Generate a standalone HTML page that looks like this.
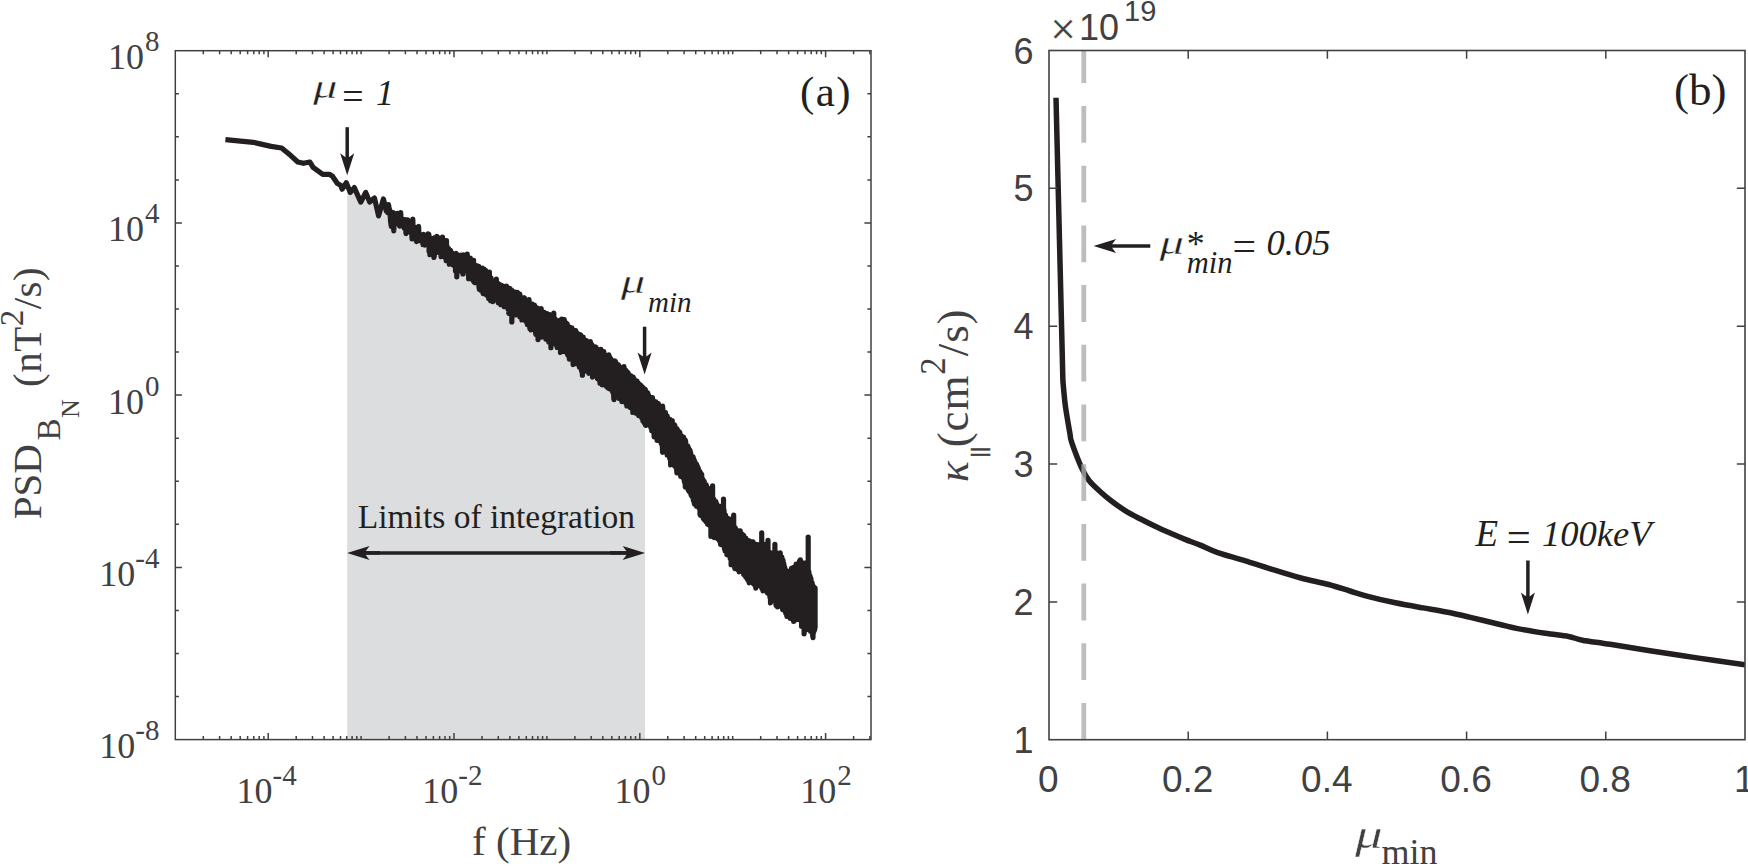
<!DOCTYPE html>
<html lang="en"><head><meta charset="utf-8"><title>Figure</title>
<style>html,body{margin:0;padding:0;background:#fff;overflow:hidden}svg{display:block}</style>
</head><body>
<svg width="1748" height="866" viewBox="0 0 1748 866">
<rect width="1748" height="866" fill="#ffffff"/>
<path d="M347.2,739.6 347.2,184.9 349.2,189.7 351.2,191.3 353.2,188.9 355.2,189.6 357.2,194.1 359.2,198.5 361.2,201.3 363.2,197.3 365.2,193.4 367.2,196.0 369.2,200.9 371.2,200.8 373.2,199.2 375.2,201.1 377.2,209.8 379.2,213.8 381.2,206.7 383.2,199.6 385.2,205.5 387.2,207.8 389.2,209.9 391.2,211.9 393.2,213.8 395.2,215.6 397.2,217.4 399.2,219.1 401.2,220.7 403.2,222.5 405.2,224.2 407.2,225.7 409.2,227.0 411.2,228.1 413.2,229.2 415.2,230.4 417.2,231.8 419.2,233.6 421.2,235.6 423.2,237.6 425.2,239.3 427.2,240.8 429.2,242.1 431.2,243.2 433.2,244.1 435.2,244.9 437.2,245.6 439.2,246.4 441.2,247.2 443.2,248.4 445.2,250.2 447.2,252.2 449.2,254.2 451.2,255.9 453.2,257.1 455.2,258.1 457.2,259.2 459.2,260.3 461.2,261.1 463.2,262.0 465.2,263.2 467.2,265.0 469.2,267.1 471.2,269.5 473.2,271.6 475.2,273.6 477.2,275.3 479.2,277.0 481.2,278.6 483.2,280.2 485.2,281.7 487.2,283.3 489.2,284.9 491.2,286.7 493.2,288.5 495.2,290.1 497.2,291.5 499.2,292.7 501.2,293.8 503.2,295.0 505.2,296.3 507.2,297.6 509.2,299.0 511.2,300.3 513.2,301.6 515.2,302.9 517.2,304.3 519.2,305.7 521.2,307.2 523.2,308.6 525.2,310.1 527.2,311.7 529.2,313.4 531.2,314.8 533.2,315.9 535.2,317.0 537.2,318.2 539.2,319.4 541.2,320.6 543.2,321.7 545.2,322.9 547.2,324.2 549.2,325.7 551.2,327.2 553.2,328.7 555.2,330.2 557.2,331.5 559.2,332.9 561.2,334.3 563.2,335.8 565.2,337.2 567.2,338.5 569.2,339.7 571.2,341.2 573.2,342.9 575.2,344.7 577.2,346.4 579.2,348.0 581.2,349.5 583.2,351.0 585.2,352.5 587.2,354.0 589.2,355.6 591.2,357.2 593.2,358.9 595.2,360.7 597.2,362.3 599.2,363.9 601.2,365.4 603.2,366.9 605.2,368.3 607.2,369.8 609.2,371.2 611.2,372.7 613.2,374.2 615.2,375.8 617.2,377.4 619.2,379.0 621.2,380.7 623.2,382.3 625.2,384.0 627.2,385.7 629.2,387.6 631.2,389.5 633.2,391.5 635.2,393.5 637.2,395.4 639.2,397.4 641.2,399.3 643.2,401.5 645.0,403.5 645.0,739.6Z" fill="#dcddde"/>
<path d="M225.4,139.6 253.3,142.3 271.1,146.4 281.6,148.0 290.5,155.3 297.8,162.0 303.4,163.3 309.9,162.0 313.1,167.4 322.8,174.3 329.3,174.3 332.5,176.3 337.4,183.5 340.6,185.2 342.2,189.2 346.3,182.7 350.3,192.4 354.3,187.6 360.8,202.1 365.7,192.4 369.7,202.1 374.5,198.1 378.6,215.9 383.4,198.9 384.8,204.5 385.6,208.4 386.3,211.2 387.1,206.6 387.8,212.7 388.5,204.6 389.2,208.7 389.9,210.5 390.6,221.6 391.3,226.4 391.9,225.9 392.6,221.6 393.2,212.5 393.8,230.9 394.4,215.0 395.0,224.1 395.6,215.0 396.2,220.5 396.8,220.9 397.4,213.4 397.9,218.3 398.5,218.0 399.1,218.4 399.6,226.2 400.1,219.2 400.7,212.7 401.2,225.6 401.7,218.8 402.2,218.8 402.7,219.3 403.2,225.0 403.7,224.6 404.2,228.1 404.6,224.3 405.1,219.6 405.6,227.7 406.0,233.7 406.5,225.4 406.9,222.5 407.4,227.2 407.8,219.8 408.3,227.5 408.7,227.0 409.1,232.0 409.6,229.0 410.0,224.4 410.4,224.5 410.8,223.0 411.2,225.3 411.6,226.5 412.0,239.0 412.4,233.0 412.8,219.0 413.2,232.1 413.6,226.9 413.9,230.4 414.3,227.2 414.7,230.2 415.0,235.4 415.4,234.6 415.8,229.6 416.1,233.7 416.5,241.6 416.8,229.6 417.2,227.7 417.5,228.4 417.9,228.6 418.2,240.3 418.6,226.4 418.9,234.4 419.2,238.2 419.6,236.4 419.9,237.9 420.2,240.8 420.5,235.4 420.8,235.0 421.2,236.9 421.5,235.7 421.8,237.5 422.1,240.3 422.4,239.9 422.7,235.4 423.0,244.6 423.3,240.6 423.6,234.3 423.9,237.7 424.2,236.1 424.5,239.2 424.8,245.1 425.1,241.6 425.3,239.4 425.6,242.1 425.9,241.2 426.2,239.8 426.5,236.7 426.7,243.2 427.0,235.8 427.3,241.4 427.6,236.9 427.8,236.4 428.1,233.8 428.4,237.0 428.6,237.1 428.9,234.3 429.1,251.5 429.4,247.6 429.7,237.8 429.9,254.7 430.2,242.2 430.4,242.3 430.7,251.4 430.9,248.2 431.2,240.3 431.4,240.9 431.6,246.8 431.9,248.3 432.1,247.8 432.4,241.7 432.6,251.7 432.8,244.2 433.1,252.2 433.3,240.0 433.5,243.6 433.8,238.2 434.0,257.5 434.2,256.1 434.5,248.2 434.7,237.6 434.9,251.3 435.1,238.7 435.4,244.4 435.6,244.6 435.8,241.9 436.0,251.0 436.2,248.9 436.5,252.6 436.7,245.2 436.9,236.3 437.1,248.0 437.3,243.3 437.5,244.1 437.7,245.1 437.9,247.2 438.1,239.3 438.4,245.8 438.6,249.1 438.8,240.7 439.0,242.3 439.2,244.9 439.4,247.3 439.6,238.1 439.8,246.6 440.0,250.1 440.2,243.6 440.4,248.5 440.6,247.0 440.7,249.0 440.9,248.1 441.1,256.7 441.3,252.0 441.5,251.6 441.7,255.5 441.9,249.1 442.1,246.3 442.3,253.4 442.5,237.1 442.6,248.9 442.8,246.1 443.0,254.6 443.2,253.4 443.4,240.3 443.6,245.4 443.7,249.7 443.9,256.7 444.1,241.3 444.3,254.4 444.5,252.0 444.6,250.5 444.8,248.0 445.0,249.9 445.2,250.4 445.3,240.8 445.5,250.0 445.7,248.4 445.8,258.6 446.0,247.2 446.2,260.7 446.4,254.8 446.5,240.6 446.7,255.7 446.9,251.9 447.0,258.0 447.2,258.2 447.4,247.0 447.5,254.8 447.7,253.2 447.8,254.4 448.0,260.5 448.2,254.0 448.3,248.4 448.5,257.3 448.6,251.6 448.8,248.8 449.0,260.0 449.1,250.2 449.3,264.1 449.4,251.4 449.6,256.2 449.8,260.1 449.9,255.5 450.1,257.9 450.2,263.4 450.4,250.6 450.5,250.4 450.7,260.3 450.8,257.5 451.0,258.0 451.1,257.0 451.3,261.9 451.4,252.0 451.6,255.9 451.7,260.6 451.9,258.5 452.0,259.8 452.2,257.3 452.3,253.9 452.5,253.9 452.6,261.6 452.7,256.4 452.9,260.8 453.0,264.9 453.2,261.8 453.3,257.2 453.5,264.0 453.6,260.4 453.7,255.6 453.9,260.4 454.0,260.6 454.2,261.7 454.3,265.8 454.4,258.9 454.6,257.8 454.7,257.5 454.8,262.2 455.0,262.2 455.1,255.0 455.3,262.0 455.4,259.5 455.5,271.1 455.7,262.7 455.8,262.7 455.9,264.7 456.1,253.3 456.2,260.1 456.3,266.6 456.5,258.8 456.6,259.1 456.7,259.0 456.8,259.0 456.8,276.8 456.8,259.0 456.8,254.2 457.0,259.4 457.1,259.2 457.2,261.9 457.4,263.2 457.5,259.6 457.6,260.0 457.7,263.0 457.9,261.5 458.0,259.5 458.1,259.3 458.3,261.9 458.4,268.0 458.5,259.2 458.6,261.4 458.8,263.6 458.9,262.0 459.0,264.6 459.1,259.6 459.2,261.7 459.4,266.7 459.5,259.4 459.6,259.0 459.7,261.3 459.9,258.9 460.0,266.3 460.1,256.5 460.2,259.7 460.3,257.3 460.5,271.0 460.6,266.5 460.7,263.1 460.8,262.2 460.9,255.0 461.0,261.3 461.2,265.8 461.3,259.5 461.4,260.6 461.5,264.0 461.6,258.5 461.7,257.4 461.9,262.4 462.0,265.2 462.1,259.2 462.2,260.2 462.3,262.8 462.4,264.9 462.5,262.8 462.7,260.2 462.8,261.7 462.9,273.9 463.0,259.7 463.1,255.7 463.2,260.7 463.3,258.9 463.4,262.1 463.5,254.9 463.7,262.3 463.8,257.1 463.9,256.7 464.0,263.0 464.1,259.2 464.2,269.0 464.3,261.1 464.4,269.2 464.5,260.6 464.6,264.7 464.7,263.7 464.8,266.8 465.0,262.0 465.1,260.2 465.2,267.1 465.3,264.6 465.4,262.3 465.5,266.0 465.6,258.4 465.7,255.4 465.8,262.6 465.9,264.1 466.0,263.2 466.1,267.6 466.2,270.7 466.3,267.4 466.4,263.1 466.5,265.6 466.6,268.4 466.7,269.2 466.8,264.5 466.9,266.1 467.0,261.5 467.1,269.7 467.2,254.2 467.3,265.4 467.4,256.2 467.5,266.8 467.6,262.9 467.7,267.8 467.8,257.9 467.9,262.4 468.0,269.2 468.1,266.7 468.2,262.7 468.3,274.7 468.4,269.7 468.5,269.1 468.6,278.7 468.7,265.2 468.8,257.7 468.9,276.1 469.0,272.9 469.1,266.4 469.2,265.3 469.3,265.6 469.4,268.7 469.5,269.9 469.6,276.3 469.7,259.1 469.8,261.4 469.9,271.1 470.0,268.1 470.0,269.4 470.1,270.2 470.2,273.8 470.3,258.0 470.4,269.5 470.5,265.1 470.6,269.6 470.7,267.4 470.8,261.6 470.9,268.5 471.0,262.1 471.1,272.5 471.2,266.0 471.3,262.8 471.3,265.8 471.4,272.9 471.5,274.4 471.6,271.6 471.7,273.1 471.8,268.4 471.9,271.0 472.0,274.0 472.1,276.6 472.2,273.6 472.2,270.6 472.3,267.2 472.4,268.9 472.5,267.7 472.6,265.0 472.7,269.0 472.8,278.7 472.9,272.3 472.9,278.3 473.0,270.7 473.1,280.5 473.2,271.9 473.3,271.1 473.4,269.0 473.5,271.9 473.6,260.4 473.6,274.2 473.7,268.2 473.8,274.5 473.9,277.1 474.0,274.6 474.1,279.9 474.1,271.7 474.2,281.9 474.3,268.8 474.4,273.0 474.5,269.7 474.6,278.8 474.7,266.2 474.7,267.5 474.8,268.6 474.9,273.9 475.0,269.6 475.1,273.7 475.2,267.7 475.2,282.7 475.3,273.4 475.4,267.5 475.5,269.8 475.6,269.6 475.6,270.1 475.7,273.1 475.8,278.7 475.9,271.8 476.0,276.2 476.1,275.5 476.1,274.9 476.2,274.4 476.3,279.3 476.4,271.3 476.5,273.6 476.5,269.3 476.6,265.6 476.7,271.2 476.8,274.3 476.9,281.7 476.9,275.1 477.0,274.1 477.1,273.7 477.2,274.9 477.2,277.8 477.3,271.0 477.4,274.6 477.5,270.5 477.6,279.0 477.6,274.0 477.7,270.0 477.8,270.1 477.9,281.3 477.9,276.2 478.0,277.6 478.1,270.3 478.2,274.0 478.3,279.2 478.3,276.2 478.4,278.6 478.5,276.0 478.6,278.4 478.6,275.3 478.7,270.8 478.8,266.3 478.9,272.7 478.9,268.1 479.0,287.2 479.1,273.5 479.2,273.2 479.2,274.6 479.3,277.2 479.4,289.3 479.5,282.3 479.5,278.2 479.6,275.3 479.7,281.9 479.8,277.4 479.8,278.1 479.9,278.1 480.0,277.3 480.1,274.7 480.1,279.2 480.2,278.4 480.3,282.3 480.3,279.7 480.4,282.0 480.5,275.9 480.6,268.7 480.6,269.8 480.7,281.4 480.8,275.9 480.9,277.9 480.9,288.0 481.0,290.5 481.1,282.0 481.1,279.4 481.2,286.0 481.3,284.0 481.3,283.6 481.4,284.1 481.5,285.9 481.6,280.3 481.6,276.0 481.7,277.8 481.8,283.9 481.8,280.2 481.9,279.2 482.0,289.9 482.1,274.8 482.1,283.2 482.2,286.6 482.3,268.2 482.3,285.2 482.4,281.4 482.5,283.7 482.5,275.2 482.6,281.4 482.7,287.9 482.7,292.1 482.8,282.9 482.9,271.0 482.9,285.9 483.0,274.3 483.1,284.9 483.2,288.6 483.2,293.6 483.3,281.4 483.4,279.2 483.4,281.2 483.5,292.2 483.6,284.0 483.6,279.2 483.7,283.7 483.8,278.6 483.8,271.0 483.9,288.4 484.0,269.1 484.0,286.9 484.1,281.7 484.2,281.8 484.2,277.1 484.3,283.1 484.4,281.1 484.4,281.8 484.5,279.1 484.6,279.2 484.6,281.7 484.7,277.4 484.7,274.7 484.8,285.1 484.9,284.8 484.9,285.1 485.0,285.5 485.1,285.2 485.1,281.6 485.2,278.3 485.3,285.6 485.3,280.0 485.4,284.3 485.5,270.4 485.5,281.0 485.6,278.7 485.7,287.5 485.7,286.9 485.8,281.4 485.8,286.5 485.9,282.9 486.0,277.0 486.0,286.5 486.1,287.1 486.2,282.0 486.2,284.2 486.3,279.8 486.3,283.6 486.4,288.6 486.5,294.9 486.5,281.4 486.6,286.8 486.7,282.6 486.7,293.1 486.8,287.2 486.8,281.6 486.9,278.4 487.0,278.3 487.0,277.4 487.1,283.7 487.2,278.9 487.2,282.0 487.3,285.0 487.3,286.2 487.4,287.9 487.5,278.9 487.5,283.7 487.6,287.7 487.6,284.7 487.7,275.1 487.8,291.7 487.8,291.5 487.9,277.3 487.9,292.0 488.0,277.6 488.1,287.3 488.1,282.4 488.2,278.1 488.2,278.2 488.3,280.7 488.4,284.7 488.4,286.0 488.5,285.9 488.5,277.2 488.6,283.1 488.7,279.1 488.7,298.4 488.8,286.7 488.8,283.4 488.9,287.0 489.0,275.0 489.0,291.2 489.1,282.5 489.1,280.8 489.2,289.6 489.2,281.0 489.3,283.2 489.4,272.1 489.4,278.3 489.5,285.6 489.5,280.7 489.6,283.4 489.7,287.9 489.7,282.3 489.8,283.1 489.8,278.1 489.9,293.3 489.9,293.1 490.0,289.9 490.1,282.6 490.1,280.7 490.2,286.6 490.2,284.8 490.3,285.8 490.3,295.0 490.4,290.5 490.5,281.8 490.5,282.2 490.6,280.7 490.6,283.0 490.7,300.7 490.7,285.0 490.8,284.7 490.8,293.7 490.9,277.9 491.0,287.4 491.0,282.1 491.1,283.0 491.1,283.8 491.2,280.3 491.2,287.6 491.3,282.4 491.3,284.8 491.4,293.5 491.5,290.4 491.5,293.4 491.6,296.8 491.6,295.6 491.7,285.0 491.7,294.9 491.8,282.8 491.8,288.7 491.9,288.8 492.0,294.0 492.0,285.8 492.1,292.3 492.1,284.6 492.2,284.5 492.2,296.9 492.3,285.5 492.3,299.0 492.4,284.1 492.4,299.4 492.5,293.4 492.5,282.1 492.6,287.1 492.7,284.9 492.7,301.6 492.8,284.6 492.8,292.5 492.9,280.9 492.9,288.2 493.0,289.0 493.0,296.9 493.1,293.1 493.1,288.8 493.2,282.5 493.2,282.9 493.3,290.0 493.3,294.6 493.4,295.1 493.5,281.3 493.5,287.5 493.6,294.3 493.6,282.2 493.7,286.5 493.7,285.5 493.8,285.1 493.8,287.5 493.9,291.6 493.9,297.6 494.0,296.0 494.0,293.6 494.1,287.0 494.1,293.0 494.2,285.8 494.2,285.4 494.3,282.8 494.3,282.7 494.4,282.5 494.4,288.5 494.5,288.9 494.5,292.6 494.6,288.4 494.6,289.1 494.7,292.9 494.7,299.1 494.8,283.9 494.8,287.3 494.9,294.6 494.9,292.1 495.0,286.4 495.0,292.5 495.1,288.6 495.1,285.4 495.2,286.2 495.2,290.7 495.3,294.2 495.3,291.8 495.4,286.8 495.4,291.0 495.5,283.3 495.5,282.7 495.6,284.0 495.6,287.1 495.7,296.1 495.7,283.3 495.8,287.1 495.8,293.5 495.9,294.5 495.9,293.3 496.0,289.8 496.0,297.4 496.1,285.6 496.1,292.2 496.2,288.2 496.2,298.9 496.3,279.1 496.3,286.5 496.4,291.3 496.4,296.5 496.5,284.7 496.5,292.8 496.6,293.0 496.6,295.2 496.7,296.9 496.7,291.5 496.8,291.1 496.8,293.1 496.9,296.4 496.9,285.1 497.0,284.7 497.0,295.3 497.1,286.0 497.1,291.3 497.2,291.8 497.2,283.4 497.3,283.9 497.3,293.6 497.4,288.7 497.4,294.5 497.4,299.5 497.5,288.1 497.5,289.9 497.6,288.8 497.6,283.0 497.7,293.2 497.7,289.9 497.8,291.4 497.8,301.3 497.9,293.0 497.9,299.6 498.0,292.0 498.0,297.1 498.1,297.5 498.1,286.5 498.2,294.2 498.2,293.7 498.2,291.0 498.3,302.8 498.3,296.7 498.4,296.0 498.4,290.8 498.5,291.6 498.5,295.4 498.6,285.6 498.6,295.1 498.7,296.3 498.7,291.1 498.8,296.0 498.8,287.8 498.9,291.6 498.9,296.0 498.9,284.0 499.0,294.7 499.0,293.2 499.1,291.7 499.1,291.6 499.2,291.4 499.2,299.1 499.3,292.9 499.3,302.7 499.4,294.3 499.4,293.8 499.4,291.0 499.5,296.8 499.5,292.1 499.6,295.2 499.6,293.0 499.7,297.5 499.7,289.4 499.8,289.7 499.8,300.8 500.1,290.8 500.1,302.9 500.5,297.3 500.5,288.3 500.9,285.1 500.9,304.7 501.3,301.5 501.3,287.0 501.7,289.9 501.7,298.9 502.2,304.3 502.2,290.4 502.6,285.9 502.6,298.2 503.0,301.0 503.0,289.8 503.4,290.1 503.4,296.2 503.8,301.0 503.8,287.2 504.3,289.8 504.3,306.7 504.7,299.7 504.7,287.1 505.1,289.9 505.1,302.5 505.5,301.9 505.5,290.5 505.9,291.0 505.9,302.2 506.4,307.1 506.4,286.0 506.8,291.7 506.8,305.7 507.2,303.8 507.2,290.5 507.6,290.0 507.6,306.3 508.0,309.3 508.0,289.3 508.5,294.1 508.5,306.2 508.9,313.5 508.9,288.2 509.3,292.7 509.3,308.6 509.7,307.8 509.7,293.1 510.1,288.5 510.1,306.5 510.6,310.2 510.6,289.8 511.0,290.7 511.0,305.2 511.4,305.6 511.4,294.5 511.8,294.4 511.8,321.9 512.2,304.7 512.2,290.6 512.7,295.7 512.7,308.6 513.1,303.5 513.1,293.9 513.5,298.2 513.5,310.2 513.9,305.7 513.9,293.0 514.3,294.5 514.3,310.9 514.8,313.8 514.8,296.6 515.2,292.2 515.2,315.0 515.6,312.4 515.6,297.6 516.0,295.8 516.0,306.1 516.4,311.6 516.4,295.6 516.9,294.3 516.9,310.2 517.3,311.5 517.3,292.4 517.7,299.6 517.7,313.0 518.1,311.6 518.1,294.3 518.5,298.8 518.5,314.7 519.0,311.8 519.0,299.0 519.4,301.0 519.4,313.5 519.8,317.0 519.8,294.0 520.2,298.3 520.2,311.4 520.6,315.6 520.6,298.3 521.1,300.9 521.1,313.8 521.5,317.7 521.5,297.9 521.9,298.4 521.9,320.0 522.3,315.1 522.3,301.3 522.7,298.4 522.7,314.0 523.2,313.2 523.2,299.7 523.6,297.8 523.6,315.8 524.0,314.2 524.0,302.9 524.4,297.8 524.4,317.0 524.8,316.1 524.8,301.1 525.3,303.4 525.3,319.3 525.7,321.3 525.7,303.0 526.1,302.6 526.1,316.2 526.5,317.2 526.5,300.9 526.9,307.0 526.9,322.3 527.4,324.7 527.4,304.2 527.8,305.8 527.8,322.0 528.2,320.5 528.2,303.6 528.6,307.6 528.6,324.3 529.0,320.2 529.0,299.5 529.5,308.4 529.5,321.1 529.9,328.8 529.9,304.3 530.3,303.7 530.3,328.0 530.7,325.0 530.7,304.1 531.1,306.5 531.1,329.9 531.6,325.8 531.6,307.0 532.0,308.6 532.0,324.0 532.4,321.2 532.4,304.0 532.8,305.7 532.8,326.9 533.2,322.9 533.2,309.4 533.7,310.0 533.7,324.1 534.1,324.2 534.1,306.0 534.5,305.2 534.5,323.3 534.9,326.4 534.9,307.4 535.3,306.4 535.3,328.3 535.8,334.5 535.8,309.2 536.2,312.6 536.2,326.7 536.6,326.4 536.6,310.2 537.0,308.7 537.0,328.3 537.4,325.5 537.4,309.5 537.9,308.3 537.9,329.6 538.0,329.6 538.0,339.6 538.0,329.6 538.3,332.6 538.3,311.4 538.7,309.2 538.7,329.2 539.1,329.9 539.1,311.9 539.5,312.9 539.5,328.0 540.0,330.3 540.0,315.1 540.4,311.2 540.4,329.5 540.8,333.6 540.8,312.3 541.2,308.5 541.2,337.2 541.6,332.2 541.6,313.8 542.1,314.2 542.1,331.3 542.5,329.1 542.5,311.6 542.9,314.4 542.9,328.5 543.3,332.6 543.3,312.2 543.7,314.3 543.7,327.2 544.2,331.5 544.2,312.4 544.6,315.0 544.6,335.5 545.0,331.7 545.0,314.4 545.4,315.0 545.4,334.3 545.8,339.2 545.8,314.0 546.3,314.9 546.3,331.7 546.7,334.1 546.7,319.1 547.1,313.7 547.1,331.4 547.5,335.7 547.5,315.0 547.9,314.8 547.9,335.6 548.4,335.4 548.4,315.7 548.8,314.4 548.8,341.9 549.2,336.7 549.2,317.4 549.6,316.3 549.6,334.0 550.0,336.1 550.0,317.6 550.5,314.8 550.5,335.1 550.9,338.6 550.9,316.9 550.9,316.9 550.9,347.7 550.9,316.9 551.3,318.1 551.3,340.4 551.7,338.3 551.7,321.1 552.1,320.2 552.1,336.7 552.6,339.7 552.6,320.1 553.0,318.7 553.0,339.8 553.4,341.2 553.4,320.8 553.8,313.0 553.8,342.9 554.2,336.7 554.2,319.2 554.7,319.4 554.7,336.8 555.1,341.6 555.1,318.8 555.5,320.8 555.5,340.4 555.9,344.8 555.9,320.1 556.3,322.2 556.3,342.9 556.8,341.2 556.8,324.0 557.2,322.7 557.2,347.5 557.6,345.9 557.6,323.3 558.0,324.6 558.0,342.3 558.4,343.4 558.4,321.8 558.9,323.1 558.9,346.4 559.3,342.3 559.3,322.5 559.7,320.4 559.7,347.8 560.1,348.0 560.1,321.9 560.5,323.9 560.5,352.4 561.0,346.0 561.0,324.2 561.4,321.6 561.4,347.5 561.8,350.1 561.8,319.1 562.2,325.0 562.2,346.8 562.6,343.4 562.6,325.0 563.1,324.9 563.1,350.1 563.5,350.6 563.5,321.0 563.9,323.4 563.9,348.7 564.3,351.7 564.3,319.7 564.7,323.3 564.7,347.5 565.2,347.7 565.2,326.7 565.6,328.0 565.6,347.9 566.0,346.2 566.0,322.9 566.4,325.3 566.4,347.5 566.8,351.5 566.8,323.3 567.3,324.4 567.3,351.1 567.7,355.0 567.7,328.6 568.1,326.0 568.1,349.7 568.5,350.3 568.5,329.2 568.9,330.5 568.9,354.8 569.4,359.1 569.4,329.1 569.8,327.4 569.8,355.0 570.2,352.4 570.2,329.2 570.6,330.8 570.6,353.6 571.0,353.1 571.0,329.0 571.5,329.1 571.5,353.0 571.9,356.2 571.9,327.9 572.3,330.3 572.3,354.9 572.7,353.2 572.7,332.7 573.1,333.5 573.1,364.6 573.6,356.1 573.6,333.1 574.0,334.3 574.0,357.1 574.4,363.3 574.4,333.3 574.8,332.4 574.8,359.0 575.2,356.4 575.2,335.0 575.7,330.6 575.7,358.1 576.1,356.4 576.1,336.2 576.5,332.5 576.5,363.7 576.9,361.0 576.9,333.0 577.3,335.9 577.3,360.3 577.8,364.1 577.8,333.6 578.2,335.0 578.2,357.5 578.6,361.6 578.6,338.0 579.0,335.1 579.0,361.3 579.4,367.4 579.4,337.6 579.9,334.6 579.9,365.9 580.3,361.5 580.3,335.0 580.7,335.0 580.7,364.2 581.1,367.3 581.1,339.4 581.5,338.8 581.5,370.7 582.0,367.9 582.0,340.0 582.4,339.4 582.4,360.7 582.4,360.7 582.4,375.2 582.4,360.7 582.8,365.3 582.8,343.0 583.2,337.1 583.2,364.5 583.6,367.5 583.6,339.0 584.1,339.3 584.1,364.5 584.5,370.7 584.5,340.1 584.9,342.7 584.9,371.1 585.3,364.9 585.3,340.9 585.7,341.2 585.7,365.6 586.2,366.8 586.2,341.3 586.6,340.7 586.6,366.9 587.0,364.1 587.0,341.3 587.4,342.3 587.4,367.1 587.8,368.3 587.8,342.7 588.3,343.7 588.3,368.8 588.7,373.3 588.7,343.1 589.1,344.6 589.1,368.3 589.5,368.1 589.5,344.5 589.9,345.2 589.9,367.8 590.4,366.3 590.4,341.6 590.8,347.0 590.8,369.0 591.2,371.7 591.2,347.1 591.6,349.1 591.6,371.1 592.0,373.2 592.0,344.8 592.5,350.0 592.5,377.1 592.9,370.3 592.9,346.8 593.3,347.0 593.3,369.6 593.7,373.6 593.7,348.0 594.1,351.4 594.1,371.8 594.6,369.8 594.6,347.8 595.0,351.2 595.0,375.4 595.4,375.5 595.4,346.9 595.8,348.0 595.8,374.5 596.2,375.7 596.2,347.6 596.7,352.2 596.7,374.6 597.1,376.5 597.1,350.7 597.5,351.5 597.5,378.6 597.9,375.9 597.9,352.5 598.3,349.5 598.3,376.3 598.8,379.6 598.8,352.8 599.2,356.0 599.2,373.5 599.6,376.7 599.6,350.8 600.0,355.2 600.0,383.2 600.4,381.1 600.4,352.7 600.9,349.3 600.9,376.1 601.3,379.2 601.3,356.0 601.7,354.3 601.7,379.1 602.1,384.9 602.1,353.8 602.5,352.2 602.5,381.7 603.0,377.9 603.0,354.1 603.4,354.0 603.4,381.8 603.8,381.2 603.8,351.6 604.2,354.7 604.2,384.4 604.6,382.0 604.6,356.9 605.1,355.0 605.1,385.1 605.5,381.1 605.5,358.2 605.9,359.6 605.9,381.0 606.3,386.5 606.3,359.4 606.7,357.8 606.7,384.1 607.2,382.3 607.2,357.7 607.6,357.5 607.6,382.1 608.0,388.1 608.0,360.5 608.4,359.4 608.4,382.8 608.8,384.0 608.8,354.9 609.3,358.7 609.3,386.5 609.7,387.9 609.7,356.9 610.1,358.2 610.1,388.9 610.5,384.6 610.5,359.3 610.9,358.9 610.9,386.5 611.4,386.5 611.4,361.8 611.8,360.7 611.8,388.3 612.2,387.3 612.2,363.6 612.6,362.1 612.6,391.8 613.0,388.1 613.0,360.9 613.5,361.6 613.5,392.6 613.9,399.7 613.9,361.6 614.3,362.2 614.3,393.2 614.7,396.3 614.7,360.9 615.1,363.2 615.1,390.5 615.6,392.1 615.6,361.7 616.0,364.1 616.0,392.7 616.4,393.4 616.4,365.8 616.8,364.2 616.8,393.2 617.2,389.7 617.2,364.4 617.7,364.6 617.7,396.1 618.1,393.8 618.1,364.7 618.5,366.8 618.5,391.1 618.9,398.5 618.9,365.7 619.3,368.4 619.3,390.4 619.8,392.5 619.8,367.9 620.2,367.4 620.2,395.1 620.6,397.0 620.6,367.5 621.0,369.0 621.0,393.6 621.4,398.0 621.4,369.6 621.9,370.0 621.9,401.6 622.3,399.9 622.3,368.2 622.7,367.4 622.7,397.0 623.1,399.0 623.1,369.0 623.5,368.5 623.5,400.1 624.0,397.8 624.0,366.7 624.4,373.0 624.4,398.4 624.8,400.3 624.8,373.0 625.2,373.5 625.2,398.6 625.6,401.8 625.6,370.0 626.1,374.2 626.1,403.5 626.5,400.6 626.5,374.6 626.9,371.5 626.9,405.9 627.3,405.4 627.3,373.6 627.7,372.2 627.7,402.3 628.2,401.4 628.2,373.0 628.6,375.4 628.6,403.4 629.0,405.6 629.0,376.1 629.4,376.1 629.4,406.1 629.8,403.5 629.8,376.3 630.3,375.4 630.3,407.4 630.7,403.3 630.7,375.7 631.1,377.7 631.1,407.8 631.5,405.1 631.5,377.7 631.9,377.4 631.9,403.8 632.4,403.4 632.4,379.0 632.8,379.0 632.8,412.4 633.2,409.2 633.2,377.1 633.6,379.1 633.6,406.1 634.0,406.5 634.0,381.6 634.5,379.5 634.5,407.7 634.9,408.7 634.9,381.4 635.3,380.8 635.3,409.9 635.7,410.9 635.7,380.8 636.1,381.5 636.1,413.2 636.6,411.7 636.6,383.1 637.0,381.0 637.0,411.5 637.4,410.5 637.4,383.2 637.8,382.7 637.8,408.7 638.2,413.7 638.2,383.1 638.7,383.4 638.7,415.6 639.1,415.2 639.1,386.6 639.5,385.9 639.5,411.2 639.9,413.7 639.9,386.5 640.3,384.7 640.3,414.3 640.8,412.1 640.8,385.4 641.2,386.7 641.2,413.9 641.6,417.7 641.6,388.0 642.0,388.4 642.0,413.4 642.4,416.3 642.4,386.8 642.9,388.8 642.9,420.8 643.3,416.4 643.3,387.8 643.7,389.6 643.7,420.7 644.1,422.7 644.1,389.8 644.5,390.9 644.5,415.5 645.0,416.1 645.0,389.0 645.4,390.0 645.4,424.7 645.8,423.5 645.8,392.7 646.2,393.9 646.2,425.4 646.6,419.6 646.6,393.8 647.1,395.2 647.1,424.6 647.5,421.8 647.5,392.6 647.9,393.5 647.9,421.2 648.3,421.5 648.3,396.0 648.7,397.1 648.7,423.9 649.2,422.7 649.2,396.0 649.6,398.2 649.6,424.1 650.0,425.0 650.0,398.9 650.4,398.1 650.4,424.5 650.8,427.6 650.8,399.5 651.3,398.6 651.3,424.6 651.7,430.8 651.7,400.8 652.1,401.7 652.1,427.2 652.5,428.0 652.5,397.7 652.9,401.5 652.9,429.1 653.4,430.6 653.4,402.5 653.8,400.9 653.8,429.7 654.2,437.0 654.2,402.9 654.6,401.7 654.6,431.3 655.0,429.7 655.0,402.5 655.5,404.4 655.5,433.5 655.9,436.1 655.9,401.8 656.3,405.5 656.3,436.2 656.7,431.0 656.7,405.0 657.1,406.6 657.1,440.3 657.6,435.9 657.6,406.0 658.0,408.3 658.0,436.8 658.4,437.1 658.4,403.7 658.8,407.2 658.8,438.7 659.2,440.8 659.2,408.0 659.7,410.4 659.7,439.1 660.1,440.3 660.1,408.1 660.5,410.1 660.5,441.1 660.9,440.5 660.9,407.2 661.3,409.8 661.3,443.4 661.8,442.0 661.8,410.1 662.2,409.2 662.2,443.5 662.6,452.3 662.6,406.1 663.0,410.8 663.0,445.2 663.4,445.2 663.4,413.5 663.9,414.2 663.9,448.2 664.3,447.0 664.3,412.8 664.7,414.5 664.7,449.2 665.1,449.4 665.1,414.7 665.5,412.5 665.5,450.4 666.0,447.2 666.0,416.1 666.4,415.7 666.4,451.8 666.8,450.4 666.8,417.1 667.2,416.0 667.2,454.9 667.6,451.0 667.6,417.3 668.1,419.2 668.1,451.3 668.5,452.3 668.5,419.3 668.9,420.2 668.9,453.9 669.3,452.5 669.3,420.5 669.7,420.8 669.7,458.3 670.2,453.6 670.2,419.5 670.6,421.8 670.6,464.9 671.0,457.1 671.0,422.4 671.4,424.0 671.4,462.8 671.8,460.6 671.8,421.6 672.3,420.6 672.3,461.8 672.7,460.5 672.7,425.5 673.1,425.2 673.1,458.2 673.5,458.8 673.5,426.1 673.9,425.2 673.9,459.8 674.4,465.9 674.4,425.5 674.8,425.0 674.8,461.0 675.2,466.1 675.2,427.2 675.6,429.6 675.6,467.0 676.0,465.9 676.0,430.4 676.5,432.0 676.5,466.9 676.9,473.0 676.9,428.6 677.3,429.6 677.3,465.7 677.7,468.4 677.7,430.4 678.1,430.7 678.1,471.0 678.6,470.4 678.6,432.1 679.0,432.8 679.0,470.9 679.4,472.4 679.4,432.8 679.8,432.3 679.8,470.7 680.2,470.1 680.2,435.5 680.7,435.2 680.7,476.3 681.1,473.4 681.1,435.9 681.5,436.0 681.5,473.6 681.9,476.7 681.9,437.4 682.3,438.2 682.3,472.8 682.8,477.4 682.8,438.6 683.2,438.8 683.2,477.0 683.6,478.7 683.6,437.1 684.0,438.8 684.0,476.4 684.4,482.0 684.4,441.6 684.9,442.5 684.9,479.9 685.3,487.1 685.3,440.1 685.7,442.1 685.7,479.3 686.1,482.1 686.1,444.5 686.5,445.4 686.5,482.6 687.0,483.2 687.0,447.0 687.4,445.9 687.4,487.5 687.8,485.2 687.8,446.2 688.2,449.0 688.2,489.8 688.6,487.6 688.6,447.8 689.1,451.0 689.1,491.2 689.5,488.8 689.5,450.2 689.9,450.1 689.9,490.4 690.3,489.9 690.3,451.6 690.7,452.9 690.7,493.4 691.2,495.3 691.2,455.1 691.6,457.6 691.6,493.3 692.0,496.5 692.0,457.5 692.4,457.6 692.4,494.4 692.8,497.7 692.8,456.5 693.3,457.8 693.3,499.9 693.7,498.0 693.7,458.9 694.1,461.8 694.1,502.3 694.5,504.2 694.5,460.7 694.9,463.8 694.9,497.5 695.4,502.9 695.4,462.9 695.8,466.6 695.8,500.6 696.2,501.3 696.2,466.2 696.6,464.4 696.6,506.2 697.0,504.3 697.0,469.4 697.5,466.2 697.5,501.6 697.9,504.6 697.9,467.5 698.3,468.2 698.3,506.7 698.7,505.4 698.7,471.9 699.1,472.9 699.1,508.0 699.6,508.9 699.6,471.0 700.0,472.2 700.0,514.4 700.4,515.3 700.4,472.5 700.8,473.8 700.8,511.1 701.2,511.2 701.2,473.9 701.7,474.3 701.7,510.3 702.1,515.5 702.1,478.1 702.5,479.3 702.5,514.4 702.9,513.4 702.9,479.4 703.3,481.5 703.3,518.3 703.8,517.3 703.8,481.3 704.2,481.3 704.2,519.6 704.6,517.7 704.6,483.8 705.0,485.6 705.0,516.7 705.4,518.1 705.4,484.8 705.9,485.2 705.9,521.6 706.3,518.4 706.3,484.9 706.7,488.9 706.7,518.2 707.1,521.7 707.1,488.9 707.5,490.3 707.5,523.9 708.0,520.3 708.0,488.2 708.4,491.6 708.4,523.1 708.8,524.8 708.8,491.9 709.2,493.8 709.2,522.7 709.6,522.4 709.6,494.3 710.1,493.2 710.1,524.7 710.5,526.1 710.5,493.7 710.9,496.4 710.9,536.3 711.3,526.8 711.3,497.5 711.7,497.0 711.7,529.0 712.2,527.4 712.2,497.7 712.6,500.4 712.6,532.2 712.6,532.2 712.6,485.8 712.6,532.2 713.0,530.5 713.0,499.8 713.4,499.9 713.4,532.5 713.8,531.2 713.8,499.2 714.3,501.4 714.3,537.6 714.7,531.5 714.7,502.1 715.1,502.4 715.1,532.2 715.5,532.6 715.5,503.9 715.9,501.5 715.9,533.9 716.4,532.0 716.4,504.1 716.8,503.9 716.8,532.9 717.2,535.8 717.2,506.5 717.6,505.4 717.6,538.6 718.0,538.4 718.0,507.8 718.5,506.3 718.5,536.3 718.9,540.2 718.9,507.4 719.3,508.8 719.3,537.5 719.7,538.7 719.7,508.3 720.1,510.0 720.1,539.4 720.6,544.4 720.6,510.2 721.0,506.4 721.0,540.6 721.4,544.6 721.4,511.0 721.8,510.6 721.8,540.8 722.2,544.9 722.2,511.6 722.7,512.3 722.7,542.1 723.1,544.1 723.1,512.1 723.5,512.3 723.5,545.0 723.5,545.0 723.5,499.0 723.5,545.0 723.9,541.3 723.9,509.4 724.3,513.9 724.3,547.7 724.8,549.9 724.8,515.8 725.2,516.1 725.2,551.1 725.6,546.9 725.6,515.1 726.0,517.4 726.0,545.5 726.4,549.3 726.4,519.6 726.9,518.3 726.9,554.4 727.3,548.6 727.3,519.4 727.7,518.5 727.7,551.5 728.1,555.2 728.1,520.0 728.5,521.4 728.5,553.7 729.0,555.5 729.0,520.6 729.4,520.1 729.4,555.0 729.8,556.9 729.8,519.2 730.2,523.8 730.2,558.3 730.6,555.5 730.6,522.2 731.1,524.2 731.1,564.7 731.5,560.2 731.5,523.9 731.9,522.6 731.9,562.7 732.3,558.0 732.3,525.6 732.7,525.1 732.7,563.0 733.2,565.3 733.2,525.8 733.6,528.6 733.6,564.3 733.7,564.3 733.7,515.0 733.7,564.3 734.0,562.7 734.0,528.6 734.4,528.0 734.4,563.4 734.8,568.6 734.8,528.4 735.3,527.8 735.3,566.1 735.7,566.1 735.7,530.2 736.1,531.3 736.1,568.6 736.5,568.4 736.5,531.0 736.9,530.7 736.9,566.3 737.4,566.0 737.4,530.7 737.8,532.3 737.8,563.9 738.2,570.0 738.2,530.9 738.6,533.1 738.6,565.8 739.0,571.9 739.0,533.6 739.5,533.7 739.5,569.8 739.9,571.0 739.9,534.1 740.3,530.9 740.3,570.0 740.7,569.9 740.7,535.6 741.1,535.1 741.1,571.1 741.6,570.2 741.6,535.1 742.0,534.0 742.0,570.0 742.4,569.6 742.4,536.3 742.8,537.0 742.8,569.7 743.2,572.4 743.2,536.0 743.7,535.3 743.7,574.3 744.1,572.0 744.1,538.1 744.5,538.2 744.5,575.0 744.9,573.1 744.9,539.0 745.3,539.9 745.3,574.2 745.8,577.1 745.8,538.1 746.2,540.2 746.2,575.5 746.6,577.0 746.6,542.0 747.0,540.0 747.0,575.9 747.4,579.5 747.4,541.7 747.9,541.6 747.9,575.8 748.3,577.6 748.3,542.2 748.7,541.2 748.7,579.6 749.1,582.8 749.1,542.0 749.5,541.0 749.5,578.5 750.0,581.1 750.0,543.1 750.4,541.6 750.4,581.8 750.8,582.1 750.8,543.1 751.2,544.0 751.2,580.9 751.6,580.5 751.6,543.5 752.1,543.7 752.1,580.8 752.5,582.8 752.5,543.5 752.9,541.8 752.9,578.9 753.3,581.5 753.3,543.7 753.7,543.8 753.7,584.1 754.2,581.6 754.2,544.1 754.6,544.8 754.6,584.5 755.0,580.9 755.0,544.2 755.4,544.6 755.4,585.2 755.8,588.1 755.8,544.6 756.3,544.4 756.3,581.0 756.7,579.7 756.7,545.1 757.1,545.2 757.1,580.9 757.5,583.1 757.5,545.0 757.9,545.3 757.9,584.5 758.4,585.6 758.4,545.1 758.8,546.6 758.8,583.3 759.2,584.0 759.2,545.9 759.6,546.8 759.6,582.7 760.0,583.8 760.0,548.5 760.5,546.3 760.5,583.2 760.9,584.3 760.9,543.7 761.3,545.0 761.3,586.0 761.7,586.0 761.7,532.8 761.7,586.0 761.7,587.7 761.7,546.7 762.1,549.7 762.1,588.5 762.6,583.4 762.6,549.3 763.0,549.3 763.0,590.8 763.4,588.5 763.4,544.7 763.8,548.0 763.8,588.2 764.2,590.2 764.2,549.8 764.7,548.5 764.7,587.8 765.1,588.8 765.1,551.4 765.5,548.9 765.5,587.3 765.9,589.7 765.9,549.9 766.3,544.2 766.3,591.0 766.8,590.4 766.8,549.8 767.2,550.7 767.2,592.6 767.6,591.7 767.6,553.5 768.0,553.5 768.0,540.4 768.0,553.5 768.0,553.8 768.0,593.3 768.4,593.5 768.4,552.6 768.9,554.3 768.9,592.7 769.3,594.0 769.3,552.4 769.7,552.9 769.7,595.0 770.1,598.1 770.1,554.2 770.5,554.1 770.5,602.9 771.0,600.1 771.0,552.8 771.4,554.3 771.4,594.5 771.8,594.7 771.8,555.9 772.2,554.0 772.2,596.1 772.6,599.7 772.6,555.0 773.1,553.7 773.1,596.0 773.5,598.7 773.5,554.1 773.9,554.6 773.9,599.1 774.3,594.0 774.3,554.6 774.7,554.9 774.7,600.0 774.9,600.0 774.9,544.3 774.9,600.0 775.2,597.9 775.2,553.0 775.6,553.6 775.6,598.6 776.0,605.3 776.0,555.3 776.4,554.0 776.4,602.8 776.8,606.1 776.8,552.8 777.3,554.1 777.3,603.1 777.7,606.9 777.7,553.5 778.1,554.2 778.1,599.0 778.5,600.1 778.5,553.8 778.9,554.5 778.9,604.8 779.4,599.9 779.4,554.3 779.8,557.2 779.8,601.2 780.2,600.1 780.2,552.8 780.6,557.9 780.6,602.3 781.0,604.8 781.0,558.1 781.5,558.5 781.5,602.3 781.9,602.1 781.9,557.2 782.3,561.4 782.3,606.1 782.7,609.6 782.7,561.8 783.1,560.3 783.1,609.8 783.6,603.9 783.6,563.1 784.0,565.0 784.0,607.5 784.4,609.7 784.4,568.4 784.8,567.4 784.8,609.7 785.2,608.3 785.2,569.8 785.7,570.6 785.7,613.1 786.1,612.8 786.1,570.4 786.5,571.6 786.5,612.9 786.9,616.5 786.9,572.6 787.3,571.4 787.3,612.0 787.8,611.7 787.8,573.5 788.2,573.2 788.2,615.6 788.6,614.8 788.6,574.3 789.0,574.6 789.0,614.1 789.4,611.0 789.4,572.7 789.9,571.5 789.9,614.3 790.3,618.5 790.3,570.9 790.7,570.9 790.7,612.7 791.1,612.9 791.1,571.5 791.5,568.3 791.5,616.2 792.0,613.9 792.0,570.4 792.4,569.3 792.4,611.5 792.8,614.3 792.8,569.3 793.2,570.0 793.2,613.7 793.6,621.5 793.6,567.4 794.1,568.6 794.1,617.2 794.5,614.5 794.5,568.7 794.9,568.8 794.9,615.6 795.3,619.4 795.3,566.9 795.7,567.4 795.7,619.9 796.2,615.5 796.2,564.0 796.6,567.0 796.6,614.4 797.0,618.3 797.0,566.1 797.4,565.3 797.4,617.4 797.8,614.3 797.8,565.7 798.3,564.4 798.3,618.7 798.7,619.4 798.7,565.3 799.1,563.5 799.1,618.6 799.5,617.1 799.5,561.1 799.9,564.3 799.9,614.7 800.4,615.7 800.4,559.8 800.8,564.7 800.8,616.7 801.2,620.4 801.2,564.1 801.6,564.8 801.6,626.2 802.0,617.1 802.0,563.4 802.5,563.2 802.5,620.2 802.9,619.7 802.9,563.8 803.3,562.9 803.3,616.1 803.7,623.0 803.7,565.5 804.1,565.4 804.1,633.8 804.6,621.1 804.6,564.5 805.0,565.9 805.0,625.3 805.4,624.1 805.4,563.2 805.8,567.7 805.8,620.3 806.2,623.2 806.2,569.6 806.7,569.5 806.7,628.0 807.1,629.5 807.1,569.9 807.5,569.9 807.5,623.0 807.9,623.6 807.9,571.4 808.2,571.4 808.2,537.1 808.2,571.4 808.3,574.5 808.3,626.4 808.8,626.6 808.8,571.3 809.2,576.4 809.2,626.5 809.6,624.6 809.6,577.9 810.0,575.9 810.0,627.6 810.4,631.3 810.4,580.5 810.9,578.3 810.9,628.3 811.3,628.1 811.3,582.8 811.7,582.6 811.7,628.3 812.1,629.4 812.1,582.7 812.5,586.4 812.5,634.0 813.0,637.7 813.0,585.8 813.4,588.0 813.4,630.2 813.8,631.9 813.8,586.8 814.2,589.4 814.2,628.9 814.6,630.1 814.6,588.6 815.1,588.0 815.1,628.4" fill="none" stroke="#231f20" stroke-width="5.2" stroke-linejoin="round" stroke-linecap="butt"/>
<path d="M203.3,739.6 v-3.6 M203.3,50.7 v3.6 M219.6,739.6 v-3.6 M219.6,50.7 v3.6 M231.2,739.6 v-3.6 M231.2,50.7 v3.6 M240.2,739.6 v-3.6 M240.2,50.7 v3.6 M247.6,739.6 v-3.6 M247.6,50.7 v3.6 M253.8,739.6 v-3.6 M253.8,50.7 v3.6 M259.2,739.6 v-3.6 M259.2,50.7 v3.6 M263.9,739.6 v-3.6 M263.9,50.7 v3.6 M268.2,739.6 v-6.6 M268.2,50.7 v6.6 M296.2,739.6 v-3.6 M296.2,50.7 v3.6 M312.5,739.6 v-3.6 M312.5,50.7 v3.6 M324.1,739.6 v-3.6 M324.1,50.7 v3.6 M333.1,739.6 v-3.6 M333.1,50.7 v3.6 M340.5,739.6 v-3.6 M340.5,50.7 v3.6 M346.7,739.6 v-3.6 M346.7,50.7 v3.6 M352.1,739.6 v-3.6 M352.1,50.7 v3.6 M356.8,739.6 v-3.6 M356.8,50.7 v3.6 M361.1,739.6 v-3.6 M361.1,50.7 v3.6 M389.1,739.6 v-3.6 M389.1,50.7 v3.6 M405.4,739.6 v-3.6 M405.4,50.7 v3.6 M417.0,739.6 v-3.6 M417.0,50.7 v3.6 M426.0,739.6 v-3.6 M426.0,50.7 v3.6 M433.4,739.6 v-3.6 M433.4,50.7 v3.6 M439.6,739.6 v-3.6 M439.6,50.7 v3.6 M445.0,739.6 v-3.6 M445.0,50.7 v3.6 M449.7,739.6 v-3.6 M449.7,50.7 v3.6 M454.0,739.6 v-6.6 M454.0,50.7 v6.6 M482.0,739.6 v-3.6 M482.0,50.7 v3.6 M498.3,739.6 v-3.6 M498.3,50.7 v3.6 M509.9,739.6 v-3.6 M509.9,50.7 v3.6 M518.9,739.6 v-3.6 M518.9,50.7 v3.6 M526.3,739.6 v-3.6 M526.3,50.7 v3.6 M532.5,739.6 v-3.6 M532.5,50.7 v3.6 M537.9,739.6 v-3.6 M537.9,50.7 v3.6 M542.6,739.6 v-3.6 M542.6,50.7 v3.6 M546.9,739.6 v-3.6 M546.9,50.7 v3.6 M574.9,739.6 v-3.6 M574.9,50.7 v3.6 M591.2,739.6 v-3.6 M591.2,50.7 v3.6 M602.8,739.6 v-3.6 M602.8,50.7 v3.6 M611.8,739.6 v-3.6 M611.8,50.7 v3.6 M619.2,739.6 v-3.6 M619.2,50.7 v3.6 M625.4,739.6 v-3.6 M625.4,50.7 v3.6 M630.8,739.6 v-3.6 M630.8,50.7 v3.6 M635.5,739.6 v-3.6 M635.5,50.7 v3.6 M639.8,739.6 v-6.6 M639.8,50.7 v6.6 M667.8,739.6 v-3.6 M667.8,50.7 v3.6 M684.1,739.6 v-3.6 M684.1,50.7 v3.6 M695.7,739.6 v-3.6 M695.7,50.7 v3.6 M704.7,739.6 v-3.6 M704.7,50.7 v3.6 M712.1,739.6 v-3.6 M712.1,50.7 v3.6 M718.3,739.6 v-3.6 M718.3,50.7 v3.6 M723.7,739.6 v-3.6 M723.7,50.7 v3.6 M728.4,739.6 v-3.6 M728.4,50.7 v3.6 M732.7,739.6 v-3.6 M732.7,50.7 v3.6 M760.7,739.6 v-3.6 M760.7,50.7 v3.6 M777.0,739.6 v-3.6 M777.0,50.7 v3.6 M788.6,739.6 v-3.6 M788.6,50.7 v3.6 M797.6,739.6 v-3.6 M797.6,50.7 v3.6 M805.0,739.6 v-3.6 M805.0,50.7 v3.6 M811.2,739.6 v-3.6 M811.2,50.7 v3.6 M816.6,739.6 v-3.6 M816.6,50.7 v3.6 M821.3,739.6 v-3.6 M821.3,50.7 v3.6 M825.6,739.6 v-6.6 M825.6,50.7 v6.6 M853.6,739.6 v-3.6 M853.6,50.7 v3.6 M869.9,739.6 v-3.6 M869.9,50.7 v3.6 M175.3,696.5 h3.6 M871.0,696.5 h-3.6 M175.3,653.5 h3.6 M871.0,653.5 h-3.6 M175.3,610.4 h3.6 M871.0,610.4 h-3.6 M175.3,567.4 h6.6 M871.0,567.4 h-6.6 M175.3,524.3 h3.6 M871.0,524.3 h-3.6 M175.3,481.3 h3.6 M871.0,481.3 h-3.6 M175.3,438.2 h3.6 M871.0,438.2 h-3.6 M175.3,395.1 h6.6 M871.0,395.1 h-6.6 M175.3,352.1 h3.6 M871.0,352.1 h-3.6 M175.3,309.0 h3.6 M871.0,309.0 h-3.6 M175.3,266.0 h3.6 M871.0,266.0 h-3.6 M175.3,222.9 h6.6 M871.0,222.9 h-6.6 M175.3,179.9 h3.6 M871.0,179.9 h-3.6 M175.3,136.8 h3.6 M871.0,136.8 h-3.6 M175.3,93.8 h3.6 M871.0,93.8 h-3.6" stroke="#414042" stroke-width="1.5" fill="none"/>
<rect x="175.3" y="50.7" width="695.7" height="688.9" fill="none" stroke="#414042" stroke-width="1.5"/>
<text x="159.5" y="69.1" font-family='"Liberation Serif", "DejaVu Serif", serif' font-size="36" fill="#414042" text-anchor="end">10<tspan font-size="29" dy="-18" dx="1">8</tspan></text>
<text x="159.5" y="241.3" font-family='"Liberation Serif", "DejaVu Serif", serif' font-size="36" fill="#414042" text-anchor="end">10<tspan font-size="29" dy="-18" dx="1">4</tspan></text>
<text x="159.5" y="413.5" font-family='"Liberation Serif", "DejaVu Serif", serif' font-size="36" fill="#414042" text-anchor="end">10<tspan font-size="29" dy="-18" dx="1">0</tspan></text>
<text x="159.5" y="585.8" font-family='"Liberation Serif", "DejaVu Serif", serif' font-size="36" fill="#414042" text-anchor="end">10<tspan font-size="29" dy="-18" dx="0">-4</tspan></text>
<text x="159.5" y="758.0" font-family='"Liberation Serif", "DejaVu Serif", serif' font-size="36" fill="#414042" text-anchor="end">10<tspan font-size="29" dy="-18" dx="0">-8</tspan></text>
<text x="266.6" y="803.2" font-family='"Liberation Serif", "DejaVu Serif", serif' font-size="36" fill="#414042" text-anchor="middle">10<tspan font-size="29" dy="-18" dx="0">-4</tspan></text>
<text x="452.4" y="803.2" font-family='"Liberation Serif", "DejaVu Serif", serif' font-size="36" fill="#414042" text-anchor="middle">10<tspan font-size="29" dy="-18" dx="0">-2</tspan></text>
<text x="640.3" y="803.2" font-family='"Liberation Serif", "DejaVu Serif", serif' font-size="36" fill="#414042" text-anchor="middle">10<tspan font-size="29" dy="-18" dx="1">0</tspan></text>
<text x="826.1" y="803.2" font-family='"Liberation Serif", "DejaVu Serif", serif' font-size="36" fill="#414042" text-anchor="middle">10<tspan font-size="29" dy="-18" dx="1">2</tspan></text>
<text x="521.6" y="854.6" font-family='"Liberation Serif", "DejaVu Serif", serif' font-size="41" fill="#414042" text-anchor="middle">f (Hz)</text>
<g transform="translate(41.0,518.6) rotate(-90)" font-family='"Liberation Serif", "DejaVu Serif", serif' fill="#414042">
<text x="-0.7" y="0" font-size="41">PSD</text>
<text x="78.2" y="18.8" font-size="33">B</text>
<text x="100.5" y="38.3" font-size="26">N</text>
<text x="131.6" y="0" font-size="41" letter-spacing="0.5">(nT<tspan font-size="33" dy="-18.5">2</tspan><tspan dy="18.5">/s)</tspan></text>
</g>
<text transform="translate(313.0,97.8) scale(1.36,0.93)" font-family='"Liberation Serif", "DejaVu Serif", serif' font-size="36" font-style="italic" fill="#231f20" stroke="#ffffff" stroke-width="0.45" paint-order="fill stroke">μ</text>
<text x="339.7" y="109.4" font-family='"Liberation Serif", "DejaVu Serif", serif' font-size="38" fill="#231f20" text-anchor="start" font-style="italic">=</text>
<text x="376.0" y="105.4" font-family='"Liberation Serif", "DejaVu Serif", serif' font-size="36" fill="#231f20" text-anchor="start" font-style="italic">1</text>
<line x1="347.2" y1="127.2" x2="347.2" y2="159.2" stroke="#231f20" stroke-width="3.5"/>
<path d="M347.2,175.2 L340.2,153.2 Q345.2,157.2 347.2,158.2 Q349.2,157.2 354.2,153.2 Z" fill="#231f20"/>
<text transform="translate(620.7,293.3) scale(1.36,0.93)" font-family='"Liberation Serif", "DejaVu Serif", serif' font-size="36" font-style="italic" fill="#231f20" stroke="#ffffff" stroke-width="0.45" paint-order="fill stroke">μ</text>
<text x="648.0" y="312.4" font-family='"Liberation Serif", "DejaVu Serif", serif' font-size="29" fill="#231f20" text-anchor="start" font-style="italic">min</text>
<line x1="644.6" y1="326.7" x2="644.6" y2="358.4" stroke="#231f20" stroke-width="3.5"/>
<path d="M644.6,374.4 L637.6,352.4 Q642.6,356.4 644.6,357.4 Q646.6,356.4 651.6,352.4 Z" fill="#231f20"/>
<text x="799.9" y="105.7" font-family='"Liberation Serif", "DejaVu Serif", serif' font-size="43" fill="#231f20" text-anchor="start" letter-spacing="1.5">(a)</text>
<text x="357.8" y="528.2" font-family='"Liberation Serif", "DejaVu Serif", serif' font-size="33.5" fill="#231f20" text-anchor="start">Limits of integration</text>
<line x1="363.1" y1="552.9" x2="629.1" y2="552.9" stroke="#231f20" stroke-width="3.5"/>
<line x1="380" y1="552.9" x2="363.6" y2="552.9" stroke="#231f20" stroke-width="3.5"/>
<path d="M347.1,552.9 L369.6,545.9 Q365.6,550.9 364.6,552.9 Q365.6,554.9 369.6,559.9 Z" fill="#231f20"/>
<line x1="610" y1="552.9" x2="628.6" y2="552.9" stroke="#231f20" stroke-width="3.5"/>
<path d="M645.1,552.9 L622.6,545.9 Q626.6,550.9 627.6,552.9 Q626.6,554.9 622.6,559.9 Z" fill="#231f20"/>
<clipPath id="cb"><rect x="1049.0" y="50.5" width="696.0" height="689.2"/></clipPath>
<path d="M1056.0,97.7 L1062.9,380.7 C1063.3,384.9 1064.2,397.2 1065.4,406.1 C1066.6,415.0 1069.1,428.4 1070.0,434.0 C1070.9,439.6 1070.0,436.5 1071.0,440.0 C1072.0,443.5 1074.4,450.1 1076.3,455.0 C1078.2,459.9 1080.2,465.1 1082.3,469.3 C1084.4,473.6 1086.1,476.9 1089.0,480.5 C1091.9,484.1 1096.0,487.8 1099.5,491.0 C1103.0,494.2 1105.8,496.7 1110.1,500.0 C1114.4,503.3 1120.1,507.5 1125.1,510.6 C1130.1,513.7 1135.1,516.2 1140.1,518.8 C1145.1,521.4 1150.1,523.9 1155.1,526.3 C1160.1,528.7 1165.1,530.9 1170.1,533.1 C1175.1,535.3 1180.1,537.4 1185.1,539.4 C1190.1,541.4 1194.8,542.9 1200.2,545.1 C1205.6,547.3 1210.2,550.0 1217.7,552.6 C1225.2,555.2 1236.2,558.0 1245.4,560.9 C1254.6,563.8 1263.8,566.9 1273.1,569.7 C1282.3,572.6 1291.7,575.5 1300.9,578.0 C1310.2,580.5 1320.4,582.3 1328.6,584.5 C1336.8,586.7 1343.5,589.0 1350.0,591.0 C1356.5,593.0 1360.1,594.3 1367.7,596.3 C1375.3,598.3 1386.2,600.9 1395.4,602.8 C1404.6,604.7 1414.6,606.4 1423.1,607.9 C1431.6,609.4 1438.5,610.5 1446.2,612.0 C1453.9,613.5 1460.3,615.0 1469.3,617.1 C1478.3,619.2 1491.9,622.6 1500.0,624.5 C1508.1,626.4 1510.1,627.1 1517.7,628.6 C1525.3,630.1 1536.9,632.0 1545.4,633.3 C1553.9,634.6 1562.3,635.4 1568.5,636.5 C1574.7,637.6 1575.5,638.9 1582.4,640.2 C1589.3,641.5 1598.8,642.5 1610.1,644.3 C1621.4,646.1 1635.5,648.5 1650.0,650.8 C1664.5,653.1 1681.2,655.6 1697.0,657.9 C1712.8,660.2 1737.1,663.6 1745.1,664.8" fill="none" stroke="#231f20" stroke-width="5.5" stroke-linejoin="round" stroke-linecap="butt" clip-path="url(#cb)"/>
<line x1="1083.8" y1="46.3" x2="1083.8" y2="760" stroke="#aaaaaa" stroke-opacity="0.78" stroke-width="4.8" stroke-dasharray="36.8 22.9" clip-path="url(#cb)"/>
<path d="M1188.2,739.7 v-8.2 M1188.2,50.5 v8.2 M1327.4,739.7 v-8.2 M1327.4,50.5 v8.2 M1466.6,739.7 v-8.2 M1466.6,50.5 v8.2 M1605.8,739.7 v-8.2 M1605.8,50.5 v8.2 M1049.0,601.9 h8.2 M1745.0,601.9 h-8.2 M1049.0,464.0 h8.2 M1745.0,464.0 h-8.2 M1049.0,326.2 h8.2 M1745.0,326.2 h-8.2 M1049.0,188.3 h8.2 M1745.0,188.3 h-8.2" stroke="#414042" stroke-width="1.5" fill="none"/>
<rect x="1049.0" y="50.5" width="696.0" height="689.2" fill="none" stroke="#414042" stroke-width="1.6"/>
<text x="1033.5" y="752.8" font-family='"Liberation Sans", "DejaVu Sans", sans-serif' font-size="36" fill="#414042" text-anchor="end">1</text>
<text x="1033.5" y="615.0" font-family='"Liberation Sans", "DejaVu Sans", sans-serif' font-size="36" fill="#414042" text-anchor="end">2</text>
<text x="1033.5" y="477.1" font-family='"Liberation Sans", "DejaVu Sans", sans-serif' font-size="36" fill="#414042" text-anchor="end">3</text>
<text x="1033.5" y="339.3" font-family='"Liberation Sans", "DejaVu Sans", sans-serif' font-size="36" fill="#414042" text-anchor="end">4</text>
<text x="1033.5" y="201.4" font-family='"Liberation Sans", "DejaVu Sans", sans-serif' font-size="36" fill="#414042" text-anchor="end">5</text>
<text x="1033.5" y="63.6" font-family='"Liberation Sans", "DejaVu Sans", sans-serif' font-size="36" fill="#414042" text-anchor="end">6</text>
<text x="1048.4" y="791.7" font-family='"Liberation Sans", "DejaVu Sans", sans-serif' font-size="37" fill="#414042" text-anchor="middle">0</text>
<text x="1187.6" y="791.7" font-family='"Liberation Sans", "DejaVu Sans", sans-serif' font-size="37" fill="#414042" text-anchor="middle">0.2</text>
<text x="1326.8" y="791.7" font-family='"Liberation Sans", "DejaVu Sans", sans-serif' font-size="37" fill="#414042" text-anchor="middle">0.4</text>
<text x="1466.0" y="791.7" font-family='"Liberation Sans", "DejaVu Sans", sans-serif' font-size="37" fill="#414042" text-anchor="middle">0.6</text>
<text x="1605.2" y="791.7" font-family='"Liberation Sans", "DejaVu Sans", sans-serif' font-size="37" fill="#414042" text-anchor="middle">0.8</text>
<text x="1744.4" y="791.7" font-family='"Liberation Sans", "DejaVu Sans", sans-serif' font-size="37" fill="#414042" text-anchor="middle">1</text>
<text x="1050.2" y="43.6" font-family='"Liberation Sans", "DejaVu Sans", sans-serif' font-size="44" fill="#414042" text-anchor="start" stroke="#ffffff" stroke-width="0.6" paint-order="fill stroke">×</text>
<text x="1078.9" y="39.8" font-family='"Liberation Sans", "DejaVu Sans", sans-serif' font-size="36" fill="#414042" text-anchor="start">10</text>
<text x="1124.1" y="20.8" font-family='"Liberation Sans", "DejaVu Sans", sans-serif' font-size="29" fill="#414042" text-anchor="start">19</text>
<text transform="translate(1355.0,847.6) scale(1.23,0.95)" font-family='"Liberation Serif", "DejaVu Serif", serif' font-size="45" font-style="italic" fill="#414042" stroke="#ffffff" stroke-width="0.45" paint-order="fill stroke">μ</text>
<text x="1381.6" y="864.4" font-family='"Liberation Serif", "DejaVu Serif", serif' font-size="36" fill="#414042" text-anchor="start">min</text>
<g transform="translate(967.5,481.6) rotate(-90)" font-family='"Liberation Serif", "DejaVu Serif", serif' fill="#414042">
<text x="-0.5" y="0" font-size="43.5" font-style="italic">κ</text>
<text x="24.2" y="18.5" font-size="21" font-family='"Liberation Sans", "DejaVu Sans", sans-serif' stroke="#414042" stroke-width="0.5">||</text>
<text x="34.3" y="0" font-size="45" letter-spacing="0.9">(cm<tspan font-size="35" dy="-23">2</tspan><tspan dy="23">/s)</tspan></text>
</g>
<text x="1674.0" y="105.1" font-family='"Liberation Serif", "DejaVu Serif", serif' font-size="45" fill="#231f20" text-anchor="start">(b)</text>
<line x1="1150.3" y1="245.9" x2="1110.1" y2="245.9" stroke="#231f20" stroke-width="3.5"/>
<path d="M1093.6,245.9 L1116.1,238.9 Q1112.1,243.9 1111.1,245.9 Q1112.1,247.9 1116.1,252.9 Z" fill="#231f20"/>
<text transform="translate(1159.4,254.1) scale(1.36,0.93)" font-family='"Liberation Serif", "DejaVu Serif", serif' font-size="36" font-style="italic" fill="#231f20" stroke="#ffffff" stroke-width="0.45" paint-order="fill stroke">μ</text>
<text x="1185.0" y="256.0" font-family='"Liberation Serif", "DejaVu Serif", serif' font-size="36" fill="#231f20" text-anchor="start" font-style="italic">*</text>
<text x="1186.7" y="273.4" font-family='"Liberation Serif", "DejaVu Serif", serif' font-size="30.5" fill="#231f20" text-anchor="start" font-style="italic">min</text>
<text x="1229.8" y="260.3" font-family='"Liberation Serif", "DejaVu Serif", serif' font-size="42" fill="#231f20" text-anchor="start" font-style="italic">=</text>
<text x="1266.5" y="254.9" font-family='"Liberation Serif", "DejaVu Serif", serif' font-size="36.5" fill="#231f20" text-anchor="start" font-style="italic">0.05</text>
<text x="1475.5" y="545.6" font-family='"Liberation Serif", "DejaVu Serif", serif' font-size="37" fill="#231f20" text-anchor="start" font-style="italic">E</text>
<text x="1504.0" y="551.1" font-family='"Liberation Serif", "DejaVu Serif", serif' font-size="42.7" fill="#231f20" text-anchor="start" font-style="italic">=</text>
<text x="1541.9" y="545.6" font-family='"Liberation Serif", "DejaVu Serif", serif' font-size="36.6" fill="#231f20" text-anchor="start" font-style="italic">100keV</text>
<line x1="1527.9" y1="560.5" x2="1527.9" y2="598.4" stroke="#231f20" stroke-width="3.5"/>
<path d="M1527.9,614.4 L1520.9,592.4 Q1525.9,596.4 1527.9,597.4 Q1529.9,596.4 1534.9,592.4 Z" fill="#231f20"/>
</svg>
</body></html>
